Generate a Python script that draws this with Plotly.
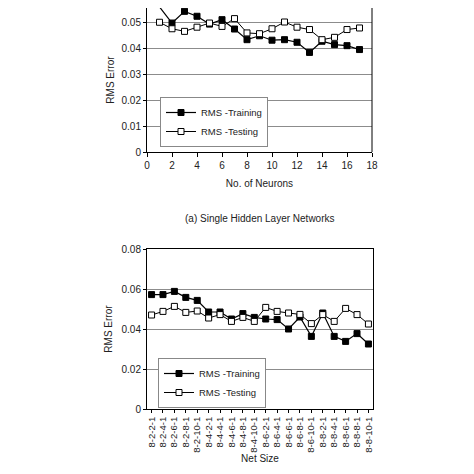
import plotly.graph_objects as go

# (a) single hidden layer networks
neurons = list(range(1, 18))
train_single = [0.0558, 0.0496, 0.0541, 0.0522, 0.0492, 0.0509, 0.0473, 0.0432, 0.0447,
                0.0430, 0.0432, 0.0422, 0.0383, 0.0426, 0.0413, 0.0409, 0.0394]
test_single = [0.0499, 0.0474, 0.0464, 0.0480, 0.0496, 0.0483, 0.0513, 0.0458, 0.0455,
               0.0474, 0.0500, 0.0480, 0.0471, 0.0432, 0.0441, 0.0471, 0.0477]
y_ticks_single = [0, 0.01, 0.02, 0.03, 0.04, 0.05]
y_labels_single = ["0", "0.01", "0.02", "0.03", "0.04", "0.05"]

# (b) two hidden layer networks
net_sizes = ["8-2-2-1", "8-2-4-1", "8-2-6-1", "8-2-8-1", "8-2-10-1",
             "8-4-2-1", "8-4-4-1", "8-4-6-1", "8-4-8-1", "8-4-10-1",
             "8-6-2-1", "8-6-4-1", "8-6-6-1", "8-6-8-1", "8-6-10-1",
             "8-8-2-1", "8-8-4-1", "8-8-6-1", "8-8-8-1", "8-8-10-1"]
train_two = [0.0572, 0.0572, 0.0588, 0.0558, 0.0543, 0.0485, 0.0485, 0.0450, 0.0477, 0.0458,
             0.0450, 0.0447, 0.0400, 0.0460, 0.0363, 0.0480, 0.0363, 0.0338, 0.0377, 0.0325]
test_two = [0.0470, 0.0488, 0.0513, 0.0483, 0.0490, 0.0455, 0.0472, 0.0438, 0.0458, 0.0438,
            0.0508, 0.0488, 0.0480, 0.0473, 0.0427, 0.0472, 0.0438, 0.0503, 0.0472, 0.0425]
y_ticks_two = [0, 0.02, 0.04, 0.06, 0.08]
y_labels_two = ["0", "0.02", "0.04", "0.06", "0.08"]

FONT = "Liberation Sans, Arial, sans-serif"
# the page body has an 8px margin, so the figure is drawn 8px in from the window edge
OFF = 8
W = H = 474 - OFF


def px_x(p):
    # window pixel -> paper fraction
    return (p - OFF) / W


def px_y(p):
    return 1 - (p - OFF) / H


fig = go.Figure()

filled = dict(symbol="square", size=6, color="black", line=dict(color="black", width=1))
hollow = dict(symbol="square", size=6, color="white", line=dict(color="black", width=1))

fig.add_trace(go.Scatter(x=neurons, y=train_single, mode="lines+markers", name="RMS -Training",
                         line=dict(color="black", width=1.2), marker=filled, cliponaxis=False,
                         xaxis="x", yaxis="y", legend="legend"))
fig.add_trace(go.Scatter(x=neurons, y=test_single, mode="lines+markers", name="RMS -Testing",
                         line=dict(color="black", width=1), marker=hollow, cliponaxis=False,
                         xaxis="x", yaxis="y", legend="legend"))
fig.add_trace(go.Scatter(x=net_sizes, y=train_two, mode="lines+markers", name="RMS -Training",
                         line=dict(color="black", width=1.2), marker=filled,
                         xaxis="x2", yaxis="y2", legend="legend2"))
fig.add_trace(go.Scatter(x=net_sizes, y=test_two, mode="lines+markers", name="RMS -Testing",
                         line=dict(color="black", width=1), marker=hollow,
                         xaxis="x2", yaxis="y2", legend="legend2"))

tick_font = dict(family=FONT, size=10, color="#222")
title_font = dict(family=FONT, size=10, color="#222")
grid = "#8c8c8c"

legend_style = dict(bgcolor="white", bordercolor="#888", borderwidth=1,
                    font=dict(family=FONT, size=9.5, color="#222"), itemwidth=30,
                    xanchor="left", yanchor="top", tracegroupgap=0)

# top of the upper panel is cut off by the picture edge
top_value = (152 - OFF) / 2600

fig.update_layout(
    width=W, height=H,
    margin=dict(l=0, r=0, t=0, b=0, autoexpand=False),
    paper_bgcolor="white", plot_bgcolor="white",
    font=dict(family=FONT, size=10, color="#222"),
    xaxis=dict(domain=[px_x(147), px_x(372)], anchor="y", range=[0, 18], dtick=2,
               showgrid=False, showline=True, linecolor="black", linewidth=1,
               ticks="outside", ticklen=4, tickcolor="black", tickfont=tick_font,
               title=dict(text="No. of Neurons", font=title_font, standoff=9),
               zeroline=False, automargin=False),
    yaxis=dict(domain=[px_y(152), 1], anchor="x", range=[0, top_value],
               tickmode="array", tickvals=y_ticks_single, ticktext=y_labels_single,
               showgrid=True, gridcolor=grid, gridwidth=1,
               showline=True, linecolor="black", linewidth=1,
               ticks="outside", ticklen=3, tickcolor="black", tickfont=tick_font,
               title=dict(text="RMS Error", font=title_font, standoff=5),
               zeroline=False, automargin=False),
    xaxis2=dict(domain=[px_x(147), px_x(373)], anchor="y2", type="category",
                range=[-0.4, 19.4], tickangle=-90,
                tickmode="array", tickvals=net_sizes, ticktext=net_sizes,
                showgrid=False, showline=True, mirror=True, linecolor="black", linewidth=1,
                ticks="outside", ticklen=3, tickcolor="black",
                tickfont=dict(family=FONT, size=9.5, color="#222"),
                title=dict(text="Net Size", font=title_font, standoff=2),
                zeroline=False, automargin=False),
    yaxis2=dict(domain=[px_y(409), px_y(249)], anchor="x2", range=[0, 0.08],
                tickmode="array", tickvals=y_ticks_two, ticktext=y_labels_two,
                showgrid=True, gridcolor=grid, gridwidth=1,
                showline=True, mirror=True, linecolor="black", linewidth=1,
                ticks="outside", ticklen=3, tickcolor="black", tickfont=tick_font,
                title=dict(text="RMS Error", font=title_font, standoff=7),
                zeroline=False, automargin=False),
    legend=dict(x=px_x(160), y=px_y(97), **legend_style),
    legend2=dict(x=px_x(158), y=px_y(358), **legend_style),
    showlegend=True,
)

# right border of the top panel (its top edge lies outside the picture)
fig.add_shape(type="line", xref="x domain", yref="y domain", x0=1, x1=1, y0=0, y1=1,
              line=dict(color="black", width=1))

fig.add_annotation(text="(a) Single Hidden Layer Networks", xref="paper", yref="paper",
                   x=px_x(260), y=px_y(218), showarrow=False,
                   font=dict(family=FONT, size=10, color="#222"))

fig.write_html("out.html")
